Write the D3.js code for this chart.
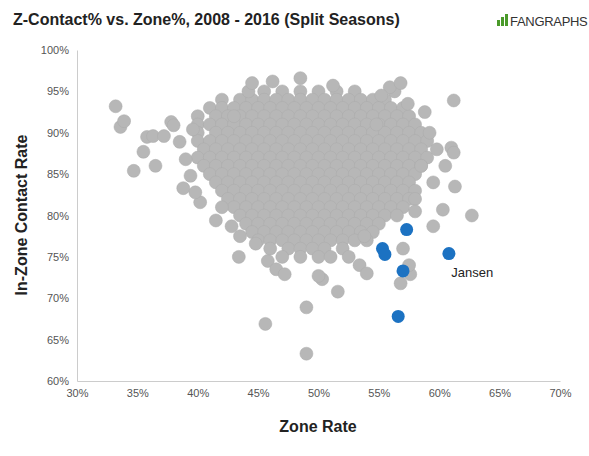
<!DOCTYPE html><html><head><meta charset="utf-8"><script src="https://cdn.jsdelivr.net/npm/d3@7"></script>
<style>body{margin:0;background:#fff}</style></head><body><svg id="c" width="589" height="456"></svg>
<script>
const xTicks=[30,35,40,45,50,55,60,65,70];
const yTicks=[60,65,70,75,80,85,90,95,100];
// dense cloud rows: [y, x values...]
const cloudRows=[
[95,45.5,47,48.5,50,51.5,53],
[94,42,43.5,44.5,45.5,46.5,47.5,48.5,49.5,50.5,51.5,52.5,53.5,54.5,55.5],
[93,41,42,43,44,45,46,47,48,49,50,51,52,53,54,55,56,57],
[92,40,41.5,42.5,43.5,44.5,45.5,46.5,47.5,48.5,49.5,50.5,51.5,52.5,53.5,54.5,55.5,56.5,57.5],
[91,40,41,42,43,44,45,46,47,48,49,50,51,52,53,54,55,56,57,58],
[90,40,41.5,42.5,43.5,44.5,45.5,46.5,47.5,48.5,49.5,50.5,51.5,52.5,53.5,54.5,55.5,56.5,57.5,58.5],
[89,40,41,42,43,44,45,46,47,48,49,50,51,52,53,54,55,56,57,58,59],
[88,40.5,41.5,42.5,43.5,44.5,45.5,46.5,47.5,48.5,49.5,50.5,51.5,52.5,53.5,54.5,55.5,56.5,57.5,58.5],
[87,40,41,42,43,44,45,46,47,48,49,50,51,52,53,54,55,56,57,58,59],
[86,40.5,41.5,42.5,43.5,44.5,45.5,46.5,47.5,48.5,49.5,50.5,51.5,52.5,53.5,54.5,55.5,56.5,57.5,58.5],
[85,41,42,43,44,45,46,47,48,49,50,51,52,53,54,55,56,57,58],
[84,41.5,42.5,43.5,44.5,45.5,46.5,47.5,48.5,49.5,50.5,51.5,52.5,53.5,54.5,55.5,56.5,57.5],
[83,42,43,44,45,46,47,48,49,50,51,52,53,54,55,56,57,58],
[82,42.5,43.5,44.5,45.5,46.5,47.5,48.5,49.5,50.5,51.5,52.5,53.5,54.5,55.5,56.5,57.5],
[81,43,44,45,46,47,48,49,50,51,52,53,54,55,56,57],
[80,43.5,44.5,45.5,46.5,47.5,48.5,49.5,50.5,51.5,52.5,53.5,54.5,55.5,56.5],
[79,44,45,46,47,48,49,50,51,52,53,54,55],
[78,44.5,45.5,46.5,47.5,48.5,49.5,50.5,51.5,52.5,53.5,54.5],
[77,45,46,47,48,49,50,51,52,53,54],
[76,46,47.5,48.5,49.5,50.5,52],
[75,47,48.5,50,51]
];
const outlierX=[33.2,33.6,33.9,34.7,35.5,35.8,36.5,36.3,37.2,37.8,38.0,38.5,38.8,39.0,39.4,39.6,40.2,39.8,41.5,42.8,43.5,42.0,43.4,44.2,43.0,45.6,49.0,49.0,50.3,51.6,50.0,52.5,53.4,54.0,45.8,46.5,44.8,47.2,56.8,57.6,58.0,58.5,59.5,58.8,59.8,60.3,61.2,61.0,61.2,61.3,62.7,59.5,58.0,57.0,57.5,60.5,59.2,56.3,57.4,55.9,56.8,44.5,55.2,54.8,53.8,46.2,48.5,51.2];
const outlierY=[93.2,90.7,91.4,85.4,87.7,89.5,86.0,89.6,89.6,91.3,90.9,88.9,83.3,86.8,84.8,90.4,81.6,82.8,79.4,78.7,77.5,81.0,75.0,95.0,92.0,66.9,63.3,68.9,72.3,70.8,72.7,75.0,74.0,73.0,74.5,73.5,76.6,72.9,71.8,72.9,82.0,86.0,84.0,92.5,88.0,80.7,93.9,88.2,87.6,83.5,80.0,78.7,80.5,76.0,74.0,86.0,90.0,95.0,93.5,95.5,96.0,96.0,94.5,91.0,77.5,96.2,96.6,95.7];
const blueX=[55.3,55.5,57.3,57.0,60.8,56.6];
const blueY=[76.0,75.3,78.3,73.3,75.4,67.8];

const svg=d3.select("#c");
const x=d3.scaleLinear().domain([30,70]).range([77,560]);
const y=d3.scaleLinear().domain([60,100]).range([381,50]);
const grey=[];
cloudRows.forEach(r=>r.slice(1).forEach(v=>grey.push([v,r[0]])));
outlierX.forEach((v,i)=>grey.push([v,outlierY[i]]));
svg.append("g").selectAll("circle").data(grey).join("circle")
 .attr("cx",d=>x(d[0])).attr("cy",d=>y(d[1])).attr("r",6.5).attr("fill","#b7b7b7").attr("stroke","#ababab").attr("stroke-width",0.5);
svg.append("g").selectAll("circle").data(blueX).join("circle")
 .attr("cx",d=>x(d)).attr("cy",(d,i)=>y(blueY[i])).attr("r",6.5).attr("fill","#1c72c2");
const xa=svg.append("g").attr("transform","translate(0,381)").call(d3.axisBottom(x).tickValues(xTicks).tickFormat(d=>d+"%").tickSize(0).tickPadding(8));
const ya=svg.append("g").attr("transform","translate(77,0)").call(d3.axisLeft(y).tickValues(yTicks).tickFormat(d=>d+"%").tickSize(0).tickPadding(8));
[xa,ya].forEach(a=>{a.selectAll("text").attr("font-family","Arial, Liberation Sans").attr("font-size",11).attr("fill","#555");a.select(".domain").attr("stroke","#ccc");});
svg.append("text").attr("x",x(61)).attr("y",y(72.6)).text("Jansen").attr("font-family","Liberation Sans").attr("font-size",13).attr("fill","#222");
svg.append("text").attr("x",13).attr("y",25).text("Z-Contact% vs. Zone%, 2008 - 2016 (Split Seasons)").attr("font-family","Liberation Sans").attr("font-weight","bold").attr("font-size",16).attr("fill","#222");
svg.append("text").attr("x",318).attr("y",432).attr("text-anchor","middle").text("Zone Rate").attr("font-family","Liberation Sans").attr("font-weight","bold").attr("font-size",16).attr("fill","#222");
svg.append("text").attr("transform","translate(27,215) rotate(-90)").attr("text-anchor","middle").text("In-Zone Contact Rate").attr("font-family","Liberation Sans").attr("font-weight","bold").attr("font-size",16).attr("fill","#222");
const lg=svg.append("g").attr("transform","translate(497,12)");
[[0,6],[4,9],[8,12]].forEach(([dx,h])=>lg.append("rect").attr("x",dx).attr("y",14-h).attr("width",3).attr("height",h).attr("fill","#4a9a2a"));
lg.append("text").attr("x",13).attr("y",14).text("FANGRAPHS").attr("font-family","Liberation Sans").attr("font-size",13).attr("fill","#333").attr("letter-spacing","-0.3");
</script></body></html>
